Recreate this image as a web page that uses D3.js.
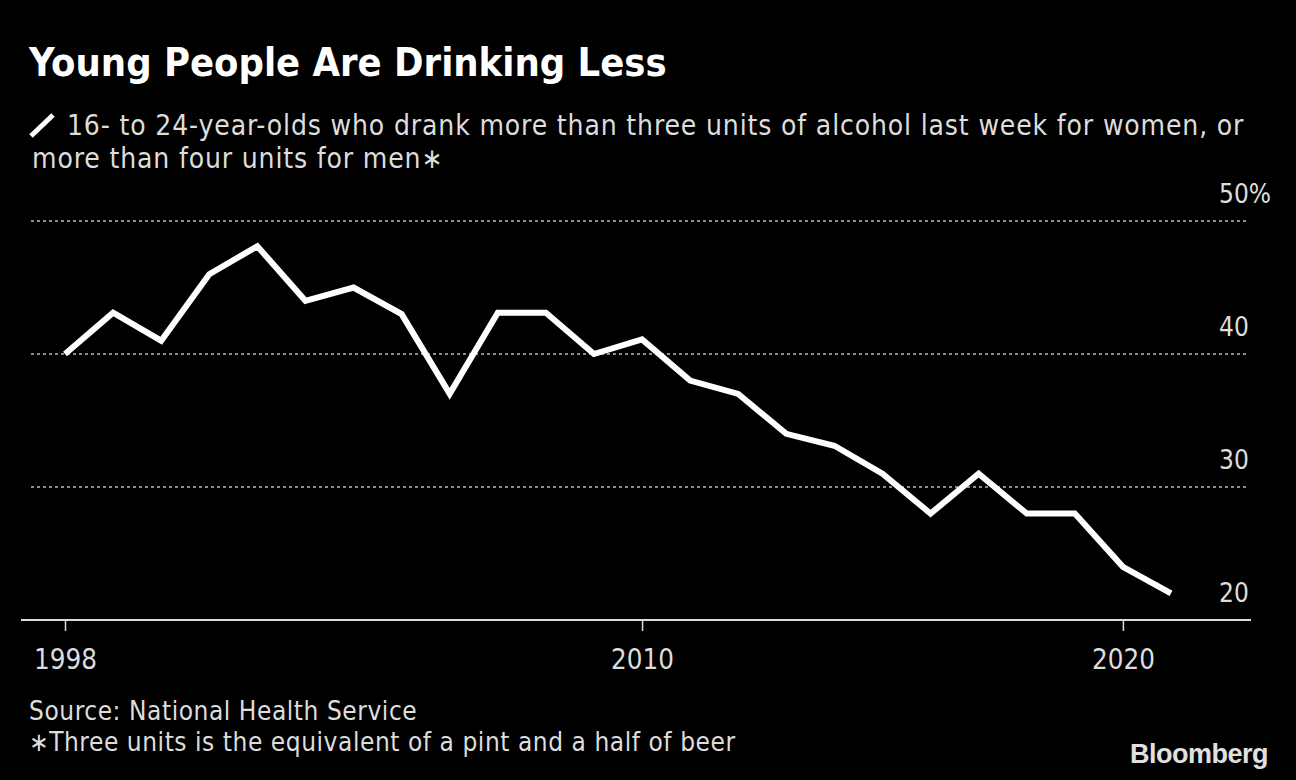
<!DOCTYPE html>
<html>
<head>
<meta charset="utf-8">
<script src="https://cdn.jsdelivr.net/npm/d3@7"></script>
<style>
  html, body { margin: 0; padding: 0; background: #000; }
  text { font-family: "DejaVu Sans Condensed", "DejaVu Sans", sans-serif; }
</style>
</head>
<body>
<div id="chart"></div>
<script>
// data
var years = [1998, 1999, 2000, 2001, 2002, 2003, 2004, 2005, 2006, 2007, 2008, 2009,
             2010, 2011, 2012, 2013, 2014, 2015, 2016, 2017, 2018, 2019, 2020, 2021];
var share = [40, 43.1, 41, 46, 48.1, 44, 45, 43, 37, 43.1, 43.1, 40,
             41.1, 38, 37, 34, 33.1, 31, 28, 31, 28, 28, 24, 22];
var yTicks = [20, 30, 40, 50];
var xTicks = [1998, 2010, 2020];

var W = 1296, H = 780;

var svg = d3.select("#chart")
    .append("svg")
    .attr("width", W)
    .attr("height", H)
    .style("background", "#000");

var x = d3.scaleLinear()
    .domain([1998, 2021])
    .range([65, 1171]);

var y = d3.scaleLinear()
    .domain([20, 50])
    .range([620, 221]);

// title + subtitle
svg.append("text")
    .attr("x", 29).attr("y", 76)
    .text("Young People Are Drinking Less")
    .style("font-size", "39.5px")
    .style("font-weight", "bold")
    .style("fill", "#fff");

svg.append("line")
    .attr("x1", 31).attr("y1", 136)
    .attr("x2", 53).attr("y2", 115)
    .attr("stroke", "#fff")
    .attr("stroke-width", 5);

svg.append("text")
    .attr("x", 67).attr("y", 135)
    .text("16- to 24-year-olds who drank more than three units of alcohol last week for women, or")
    .style("font-size", "28px")
    .style("letter-spacing", "0.85px")
    .style("fill", "#ddd");

svg.append("text")
    .attr("x", 32).attr("y", 168)
    .text("more than four units for men\u2217")
    .style("font-size", "28px")
    .style("letter-spacing", "0.85px")
    .style("fill", "#ddd");

// grid lines (dotted)
svg.selectAll(".grid")
    .data(yTicks.filter(function (d) { return d > 20; }))
    .enter()
    .append("line")
    .attr("class", "grid")
    .attr("x1", 31).attr("x2", 1248)
    .attr("y1", function (d) { return y(d); })
    .attr("y2", function (d) { return y(d); })
    .attr("stroke", "#8c8c8c")
    .attr("stroke-width", 2)
    .attr("stroke-dasharray", "3,3");

// y labels
svg.selectAll(".ylab")
    .data(yTicks)
    .enter()
    .append("text")
    .attr("class", "ylab")
    .attr("x", 1219)
    .attr("y", function (d) { return y(d) - 18; })
    .text(function (d) { return d == 50 ? d + "%" : d; })
    .style("font-size", "26px")
    .style("fill", "#ddd");

// x axis
var xAxis = svg.append("g")
    .attr("transform", "translate(0,620)")
    .call(d3.axisBottom(x).tickValues(xTicks).tickFormat(d3.format("d")).tickSize(11).tickPadding(18));

xAxis.select(".domain").remove();
xAxis.append("line")
    .attr("x1", 21).attr("x2", 1251)
    .attr("stroke", "#ddd")
    .attr("stroke-width", 2);
xAxis.selectAll(".tick line")
    .attr("stroke", "#ddd")
    .attr("stroke-width", 1.5);
xAxis.selectAll(".tick text")
    .style("font-size", "27.5px")
    .style("font-family", "'DejaVu Sans Condensed', 'DejaVu Sans', sans-serif")
    .attr("fill", "#ddd");

// the line
var line = d3.line()
    .x(function (d, i) { return x(years[i]); })
    .y(function (d) { return y(d); });

svg.append("path")
    .datum(share)
    .attr("d", line)
    .attr("fill", "none")
    .attr("stroke", "#fff")
    .attr("stroke-width", 6)
    .attr("stroke-linejoin", "miter");

// footer
svg.append("text")
    .attr("x", 29).attr("y", 720)
    .text("Source: National Health Service")
    .style("font-size", "26px")
    .style("letter-spacing", "0.55px")
    .style("fill", "#ddd");

svg.append("text")
    .attr("x", 29).attr("y", 751)
    .text("\u2217Three units is the equivalent of a pint and a half of beer")
    .style("font-size", "26px")
    .style("letter-spacing", "0.55px")
    .style("fill", "#ddd");

svg.append("text")
    .attr("x", 1268).attr("y", 763)
    .attr("text-anchor", "end")
    .text("Bloomberg")
    .style("font-family", "'Liberation Sans', Arial, sans-serif")
    .style("font-size", "27px")
    .style("font-weight", "bold")
    .style("letter-spacing", "-0.5px")
    .style("fill", "#e0e0e0");
</script>
</body>
</html>
